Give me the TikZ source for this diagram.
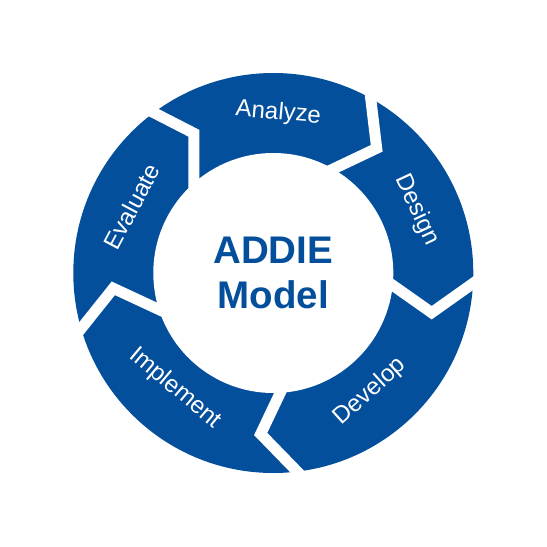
\documentclass[tikz,border=0pt]{standalone}
\usepackage{fontspec}
\setmainfont{Liberation Sans}
\usetikzlibrary{positioning}
\definecolor{addieblue}{RGB}{4,79,156}

\begin{document}
\begin{tikzpicture}[x=0.5pt,y=0.5pt]
    \tikzstyle{ring} = [fill=addieblue]
    \tikzstyle{gap} = [draw=white, line width=5.5pt, line join=miter]
    \tikzstyle{stage} = [text=white, inner sep=0pt, font=\fontsize{12}{14}\selectfont]
    \tikzstyle{hub} = [circle, fill=white, minimum size=120pt, inner sep=0pt,
        text=addieblue, align=center, font=\fontsize{19.25}{23.5}\selectfont\bfseries]
    \useasboundingbox (-273.3,-274) rectangle (273.7,273);

    \fill[ring] (0,0) circle [radius=100pt];

    % Gaps
    \coordinate (go1) at (96.2,184.7);   \coordinate (gt1) at (103.4,124.7);  \coordinate (gi1) at (43.4,96.2);
    \coordinate (go2) at (210.4,-2.8);   \coordinate (gt2) at (158.4,-39.7);  \coordinate (gi2) at (99.3,1.9);
    \coordinate (go3) at (32.9,-207.8);  \coordinate (gt3) at (-12.6,-161);   \coordinate (gi3) at (16.4,-99.9);
    \coordinate (go4) at (-199.8,-65.2); \coordinate (gt4) at (-160,-15.3);   \coordinate (gi4) at (-89.9,-47.9);
    \coordinate (go5) at (-130,165.7);   \coordinate (gt5) at (-79.3,139.7);  \coordinate (gi5) at (-79.3,67.1);
    \foreach \i in {1,...,5}
        \draw[gap] (go\i) -- (gt\i) -- (gi\i);

    \node [hub] (addie) at (0,0) {ADDIE\\[-1pt]Model};

    % Stages
    \node [stage, rotate=-5] (analyze) at (5,159.7) {Analyze};
    \node [stage, rotate=-65] (design) at (143.4,63) {Design};
    \node [stage, rotate=42] (develop) at (96.7,-118.7) {Develop};
    \node [stage, rotate=-40] (implement) at (-98.3,-115.3) {Implement};
    \node [stage, rotate=62] (evaluate) at (-141.6,66.3) {Evaluate};
\end{tikzpicture}
\end{document}
